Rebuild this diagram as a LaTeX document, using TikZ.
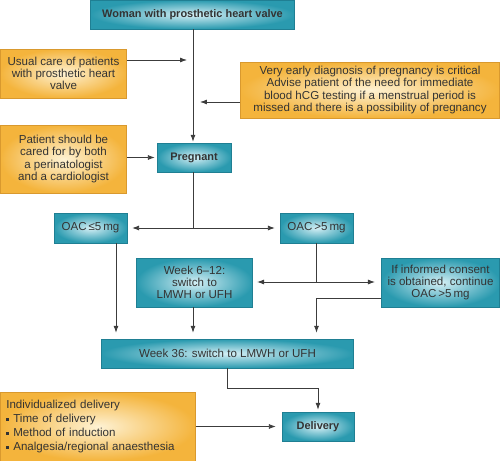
\documentclass[tikz,border=0pt]{standalone}
\usepackage{fontspec}
\setmainfont{Liberation Sans}
\usetikzlibrary{arrows.meta}
\definecolor{tealout}{HTML}{2A9AAF}
\definecolor{tealin}{HTML}{D4EFF5}
\definecolor{tealline}{HTML}{1F7F93}
\definecolor{ambout}{HTML}{F4B43C}
\definecolor{ambin}{HTML}{FEF2D4}
\definecolor{ambline}{HTML}{D9992E}
\definecolor{inkgray}{HTML}{333333}
\definecolor{lngray}{HTML}{3C3C3C}
\newcommand{\sqbul}{\raisebox{1.8pt}{\rule{3pt}{3pt}}\hspace{4pt}}
\newcommand{\boxfont}{\fontsize{11.6}{12.4}\selectfont}
\tikzset{
	tealbox/.style={draw=tealline, line width=0.6pt, shading=radial, inner color=tealin, outer color=tealout, align=center, inner sep=0pt, text=inkgray, font=\boxfont},
	ambbox/.style={draw=ambline, line width=0.6pt, shading=radial, inner color=ambin, outer color=ambout, align=center, inner sep=0pt, text=inkgray, font=\boxfont},
	arr/.style={draw=lngray, line width=0.8pt, -{Latex[length=7pt,width=5pt]}},
	ln/.style={draw=lngray, line width=0.8pt}
}

\begin{document}
\begin{tikzpicture}[x=1bp, y=-1bp]
	%%%%% START %%%%%
	\useasboundingbox (0,0) rectangle (500,461);
	
	\node[tealbox, minimum width=205, minimum height=29, font=\fontsize{11}{12.4}\selectfont\bfseries] (woman) at (192.5,14.5) {Woman with prosthetic heart valve};
	
	\node[ambbox, minimum width=127, minimum height=49] (usual) at (63.5,73.5) {Usual care of patients\\with prosthetic heart\\valve};
	\node[ambbox, minimum width=260, minimum height=56] (early) at (370,90) {Very early diagnosis of pregnancy is critical\\Advise patient of the need for immediate\\blood hCG testing if a menstrual period is\\missed and there is a possibility of pregnancy};
	\node[ambbox, minimum width=127, minimum height=68] (care) at (63.5,159) {Patient should be\\cared for by both\\a perinatologist\\and a cardiologist};
	
	\node[tealbox, minimum width=74, minimum height=29, font=\fontsize{11}{12.4}\selectfont\bfseries] (preg) at (194,157.5) {Pregnant};
	
	\node[tealbox, minimum width=73, minimum height=30] (oacle) at (90.5,228) {OAC\,≤5\,mg};
	\node[tealbox, minimum width=73, minimum height=30] (oacgt) at (316.5,228) {OAC\,>5\,mg};
	
	\node[tealbox, minimum width=117, minimum height=49] (wk6) at (194.5,282.5) {Week 6--12:\\switch to\\LMWH or UFH};
	\node[tealbox, minimum width=119, minimum height=49] (consent) at (440.5,282.5) {If informed consent\\is obtained, continue\\OAC\,>5\,mg};
	
	\node[tealbox, minimum width=253, minimum height=29] (wk36) at (227.5,353.5) {Week 36: switch to LMWH or UFH};
	
	\node[tealbox, minimum width=72, minimum height=29, font=\fontsize{11}{12.4}\selectfont\bfseries] (deliv) at (318,426.5) {Delivery};
	\node[ambbox, minimum width=196, minimum height=69, align=left, text width=184, font=\fontsize{11.6}{14}\selectfont] (indiv) at (98,426.5) {Individualized delivery\\\sqbul Time of delivery\\\sqbul Method of induction\\\sqbul Analgesia/regional anaesthesia};
	
	% helper points
	\coordinate (mainx) at (193,0);
	\coordinate (usualy) at (0,60);
	\coordinate (earlyy) at (0,102);
	\coordinate (splity) at (0,228);
	\coordinate (leftx) at (116,0);
	\coordinate (split2y) at (0,282);
	\coordinate (consy) at (0,298);
	\coordinate (elbowy) at (0,388);
	
	% connectors
	\draw[arr, shorten >=1pt] (woman.south -| mainx) -- (preg.north -| mainx);
	\draw[arr, shorten >=6pt] (usual.east |- usualy) -- (mainx |- usualy);
	\draw[arr, shorten >=7pt] (early.west |- earlyy) -- (mainx |- earlyy);
	\draw[arr, shorten >=2pt] (care.east |- preg) -- (preg.west);
	
	\draw[ln] (preg.south -| mainx) -- (mainx |- splity);
	\draw[arr, shorten >=5pt] (mainx |- splity) -- (oacle.east);
	\draw[arr, shorten >=5pt] (mainx |- splity) -- (oacgt.west);
	
	\draw[arr, shorten >=6pt] (oacle.south -| leftx) -- (wk36.north -| leftx);
	\draw[ln] (oacgt.south) -- (oacgt.south |- split2y);
	\draw[arr, shorten >=4pt] (oacgt.south |- split2y) -- (wk6.east |- split2y);
	\draw[arr, shorten >=6pt] (oacgt.south |- split2y) -- (consent.west |- split2y);
	
	\draw[arr, shorten >=6pt] (wk6.south -| mainx) -- (wk36.north -| mainx);
	\draw[arr, shorten >=6pt] (consent.west |- consy) -| (wk36.north -| oacgt);
	
	\draw[arr, shorten >=2pt] (wk36.south) -- (wk36.south |- elbowy) -| (deliv.north);
	\draw[arr, shorten >=6pt] (indiv.east) -- (deliv.west);
	
	%%%%% END %%%%%
\end{tikzpicture}
\end{document}
